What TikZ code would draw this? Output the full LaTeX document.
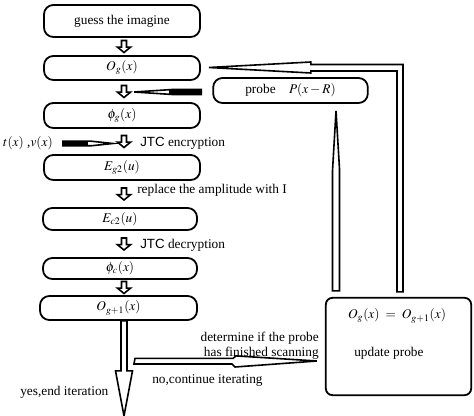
\documentclass[tikz,border=0pt]{standalone}
\usepackage{mathptmx}
\usepackage{fontspec}
\setmainfont{Liberation Serif}
\newfontfamily\jtcfont{Liberation Sans}
\usetikzlibrary{calc}
\tikzset{
  stage/.style={draw,line width=1.35pt,rounded corners=7pt,minimum width=117pt,minimum height=18pt,inner sep=0pt},
  hollow/.style={draw,line width=1.2pt,fill=white,line join=miter},
  lab/.style={inner sep=0pt,anchor=west}
}

\begin{document}
\begin{tikzpicture}[x=0.75pt,y=-0.75pt,font=\fontsize{10}{12}\selectfont]
\useasboundingbox (0,0) rectangle (474,416);
% main column
\node[stage,minimum height=24pt] (guess) at (122,21) {guess the imagine};
\node[stage] (og) at (122,68) {$O_g(x)$};
\node[stage,minimum height=18.75pt] (phig) at (122,115.5) {$\phi_g(x)$};
\node[stage,minimum height=18.75pt] (eg2) at (122,167.5) {$E_{g2}(u)$};
\node[stage,minimum width=115.5pt,minimum height=16.5pt] (ec2) at (120,219) {$E_{c2}(u)$};
\node[stage,minimum width=115.5pt,minimum height=15.75pt] (phic) at (120,268.5) {$\phi_c(x)$};
\node[stage,minimum width=117.75pt] (og1) at (118.5,308) {$O_{g+1}(x)$};
\node[stage,minimum width=116pt,minimum height=18.75pt] (probe) at (290.5,90.5) {probe\quad $P(x-R)$};
\node[stage,minimum width=109pt,minimum height=73pt,rounded corners=5pt] (upd) at (398.5,346.5) {};
\node (ogeq) at (397,316) {$O_g(x)\;=\;O_{g+1}(x)$};
\node[lab] (updtxt) at (354,353) {update probe};
\coordinate (col) at (124,0);

\foreach \a/\b in {guess/og,og/phig,phig/eg2,eg2/ec2,ec2/phic,phic/og1}
  \draw[hollow] let \p1=($(\a.south -| col)!0.5!(\b.north -| col)$) in
    (\x1-1.9pt,\y1+4.5pt) -- (\x1+1.9pt,\y1+4.5pt) -- (\x1+1.9pt,\y1-0.5pt) -- (\x1+4.9pt,\y1-0.5pt)
    -- (\x1,\y1-4.5pt) -- (\x1-4.9pt,\y1-0.5pt) -- (\x1-1.9pt,\y1-0.5pt) -- cycle;

\node[lab] (tv) at (3,143) {$t(x)$\ ,$v(x)$};
\node[lab] (enc) at (140,143) {{\jtcfont JTC} encryption};
\node[lab] (repl) at (137,190) {replace the amplitude with I};
\node[lab] (dec) at (140,245) {{\jtcfont JTC} decryption};
\node[anchor=east,align=right,inner sep=0pt,font=\fontsize{10}{11.25}\selectfont] (det) at (319,345.5) {determine if the probe\\has finished scanning};
\node[lab] (cont) at (152,381) {no,continue iterating};
\node[lab] (yes) at (20,392) {yes,end iteration};

% t(x),v(x) into the loop
\coordinate (tvtip) at ($(phig.south -| col)!0.5!(eg2.north -| col)+(-11,2)$);
\draw[hollow] (tvtip) -- ++(-22,-2.3) -- ++(-28,0) -- ++(0,4.6) -- ++(28,0) -- cycle;
\fill ($(tvtip)+(-25,-2.3)$) rectangle ($(tvtip)+(-50,2.3)$);

% probe into the loop
\coordinate (pw) at ($(probe.west)+(0,1.5)$);
\draw[hollow] ($(pw)+(-78,0)$) -- ($(pw)+(-40,-2.5)$) -- ($(pw)+(-11,-2.5)$) -- ($(pw)+(-11,2.5)$) -- ($(pw)+(-40,2.5)$) -- cycle;
\fill ($(pw)+(-11,-2.5)$) rectangle ($(pw)+(-43,2.5)$);

% end of loop
\coordinate (stop) at ($(og1.south -| col)+(0,95)$);
\draw[hollow] ($(og1.south -| col)+(-3,0)$) -- ++(6,0) -- ++(0,50) -- ++(5.5,0) -- (stop) -- ++(-8.5,-45) -- ++(5.5,0) -- cycle;

% no: go to update
\coordinate (tipno) at ($(upd.west)+(-8,14.5)$);
\draw[hollow] ($(og1.south -| col)+(11,37.5)$) -- ++(98,0) -- ++(3,-2.5) -- (tipno) -- ++(-82,6) -- ++(-3,-3) -- ++(-98,0) -- cycle;

% update to probe
\coordinate (tipup) at ($(probe.south -| upd.north)+(-62.5,7)$);
\draw[hollow] ($(upd.north)+(-66,-6)$) -- ++(7,0) -- ++(0,-122) -- (tipup) -- ++(-3.5,60) -- cycle;

% update back to O_g
\coordinate (ret) at (og.east -| upd.north);
\draw[hollow] ($(og.east)+(8,-0.5)$) -- ($(og.east)+(110,-6)$) -- ($(og.east)+(110,-3.5)$) -- ($(ret)+(4.5,-3.5)$)
  -- ($(upd.north)+(4.5,-5)$) -- ($(upd.north)+(-1.5,-5)$) -- ($(ret)+(-1.5,3)$) -- ($(og.east)+(110,3)$) -- ($(og.east)+(110,5)$) -- cycle;
\end{tikzpicture}
\end{document}
